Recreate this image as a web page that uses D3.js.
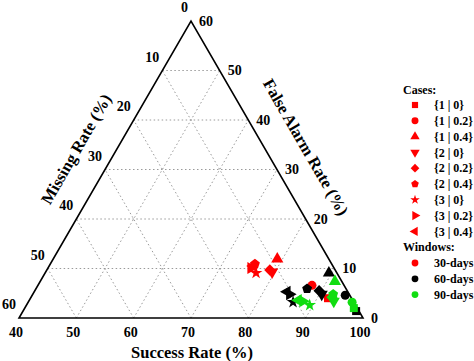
<!DOCTYPE html>
<html>
<head>
<meta charset="utf-8">
<script src="https://cdn.jsdelivr.net/npm/d3@7"></script>
<style>
  body { margin: 0; background: #fff; }
  text { font-family: "Liberation Serif", "Times New Roman", serif; font-weight: bold; fill: #000; }
</style>
</head>
<body>
<svg id="chart" width="474" height="361"></svg>
<script>
// cases {k | alpha} and windows
var cases = ["{1 | 0}", "{1 | 0.2}", "{1 | 0.4}", "{2 | 0}", "{2 | 0.2}", "{2 | 0.4}", "{3 | 0}", "{3 | 0.2}", "{3 | 0.4}"];
var windows = ["30-days", "60-days", "90-days"];
var windowColors = ["#ff0000", "#000000", "#11dd11"];

// success rate (%) per case, one array per window
var success30 = [91.9, 87.8, 79.1, 79.5, 78.9, 75.7, 76.8, 75.4, 75.6];
var success60 = [98.1, 94.6, 89.5, 90.4, 89.6, 87.3, 86.2, 84.8, 84.1];
var success90 = [97.4, 96.5, 91.4, 93.2, 92.5, 92.4, 89.4, 87.8, 86.9];

// false alarm rate (%) per case, one array per window
var falseAlarm30 = [4.0, 6.6, 11.9, 9.3, 9.7, 10.9, 9.1, 10.1, 10.5];
var falseAlarm60 = [1.4, 4.6, 9.1, 4.8, 5.5, 5.9, 3.2, 4.8, 5.3];
var falseAlarm90 = [2.0, 3.2, 7.4, 3.4, 4.2, 4.8, 2.6, 3.4, 3.6];

// missing rate is the rest: 100 - success - false alarm
var successTicks = [40, 50, 60, 70, 80, 90, 100];
var missingTicks = [0, 10, 20, 30, 40, 50, 60];
var falseAlarmTicks = [0, 10, 20, 30, 40, 50, 60];

var svg = d3.select("#chart");

var xS = d3.scaleLinear().domain([40, 100]).range([19, 363]);
var yF = d3.scaleLinear().domain([0, 60]).range([318, 21]);
var xF = d3.scaleLinear().domain([0, 60]).range([0, 172]);

// ternary point -> pixel
function px(s, f) { return xS(s) + xF(f); }
function py(s, f) { return yF(f); }

/*==============================
    extra symbols
==============================*/
var symbolPentagon = {
    draw: function (context, size) {
        var r = Math.sqrt(size / 2.378);
        for (var i = 0; i < 5; i++) {
            var a = -Math.PI / 2 + i * 2 * Math.PI / 5;
            if (i === 0) context.moveTo(r * Math.cos(a), r * Math.sin(a));
            else context.lineTo(r * Math.cos(a), r * Math.sin(a));
        }
        context.closePath();
    }
};
var symbolRhomb = {
    draw: function (context, size) {
        var r = Math.sqrt(size / 2);
        context.moveTo(0, -r);
        context.lineTo(r, 0);
        context.lineTo(0, r);
        context.lineTo(-r, 0);
        context.closePath();
    }
};
// type, rotation for each case
var caseShapes = [
    [d3.symbolSquare, 0], [d3.symbolCircle, 0], [d3.symbolTriangle, 0],
    [d3.symbolTriangle, 180], [symbolRhomb, 0], [symbolPentagon, 0],
    [d3.symbolStar, 0], [d3.symbolTriangle, 90], [d3.symbolTriangle, -90]
];

// grid
var grid = svg.append("g")
    .attr("fill", "none")
    .attr("stroke", "#9a9a9a")
    .attr("stroke-width", 1)
    .attr("stroke-dasharray", "1.5,2.5");

[10, 20, 30, 40, 50].forEach(function (v) {
    // false alarm constant
    grid.append("line")
        .attr("x1", px(40, v)).attr("y1", py(40, v))
        .attr("x2", px(100 - v, v)).attr("y2", py(100 - v, v));
    // success constant
    grid.append("line")
        .attr("x1", px(40 + v, 0)).attr("y1", py(40 + v, 0))
        .attr("x2", px(40 + v, 60 - v)).attr("y2", py(40 + v, 60 - v));
    // missing constant
    grid.append("line")
        .attr("x1", px(100 - v, 0)).attr("y1", py(100 - v, 0))
        .attr("x2", px(40, 60 - v)).attr("y2", py(40, 60 - v));
});

// triangle frame
svg.append("path")
    .attr("d", "M" + px(40, 0) + "," + py(40, 0) + "L" + px(100, 0) + "," + py(100, 0) + "L" + px(40, 60) + "," + py(40, 60) + "Z")
    .attr("fill", "none")
    .attr("stroke", "#000")
    .attr("stroke-width", 1.6);

// tick labels
svg.selectAll(".tick-s").data(successTicks).enter().append("text")
    .attr("x", function (d) { return px(d, 0) - 3; })
    .attr("y", 337)
    .attr("text-anchor", "middle")
    .style("font-size", "14px")
    .text(function (d) { return d; });

svg.selectAll(".tick-m").data(missingTicks).enter().append("text")
    .attr("x", function (d) { return px(40, 60 - d) - 3; })
    .attr("y", function (d) { return py(40, 60 - d) - 13.5; })
    .attr("dy", "0.35em")
    .attr("text-anchor", "end")
    .style("font-size", "14px")
    .text(function (d) { return d; });

svg.selectAll(".tick-f").data(falseAlarmTicks).enter().append("text")
    .attr("x", function (d) { return px(100 - d, d) + 8; })
    .attr("y", function (d) { return py(100 - d, d); })
    .attr("dy", "0.35em")
    .attr("text-anchor", "start")
    .style("font-size", "14px")
    .text(function (d) { return d; });

// axis titles
svg.append("text")
    .attr("x", 192).attr("y", 352).attr("dy", "0.35em")
    .attr("text-anchor", "middle")
    .style("font-size", "16.5px")
    .text("Success Rate (%)");

svg.append("text")
    .attr("transform", "translate(76,149) rotate(-60)")
    .attr("dy", "0.35em")
    .attr("text-anchor", "middle")
    .style("font-size", "16.5px")
    .text("Missing Rate (%)");

svg.append("text")
    .attr("transform", "translate(306,147) rotate(60)")
    .attr("dy", "0.35em")
    .attr("text-anchor", "middle")
    .style("font-size", "16.5px")
    .text("False Alarm Rate (%)");

// points
var successByWindow = [success30, success60, success90];
var falseAlarmByWindow = [falseAlarm30, falseAlarm60, falseAlarm90];

windows.forEach(function (w, wi) {
    var g = svg.append("g").attr("class", "window-" + wi);
    cases.forEach(function (c, ci) {
        var s = successByWindow[wi][ci];
        var f = falseAlarmByWindow[wi][ci];
        g.append("path")
            .attr("d", d3.symbol().type(caseShapes[ci][0]).size(caseShapes[ci][0] === d3.symbolStar ? 50 : 64)())
            .attr("transform", "translate(" + px(s, f) + "," + py(s, f) + ") rotate(" + caseShapes[ci][1] + ")")
            .attr("fill", windowColors[wi]);
    });
});

// legend
var legend = svg.append("g");
var rowH = 15.8;
legend.append("text").attr("x", 403).attr("y", 90).attr("dy", "0.35em")
    .style("font-size", "12px").text("Cases:");

cases.forEach(function (c, ci) {
    var y = 105 + ci * rowH;
    legend.append("path")
        .attr("d", d3.symbol().type(caseShapes[ci][0]).size(caseShapes[ci][0] === d3.symbolStar ? 28 : 38)())
        .attr("transform", "translate(415," + y + ") rotate(" + caseShapes[ci][1] + ")")
        .attr("fill", "#ff0000");
    legend.append("text").attr("x", 434).attr("y", y).attr("dy", "0.35em")
        .style("font-size", "12px").text(c);
});

var wy = 105 + cases.length * rowH;
legend.append("text").attr("x", 403).attr("y", wy).attr("dy", "0.35em")
    .style("font-size", "12px").text("Windows:");

windows.forEach(function (w, wi) {
    var y = wy + (wi + 1) * rowH;
    legend.append("circle").attr("cx", 415).attr("cy", y).attr("r", 3.4)
        .attr("fill", windowColors[wi]);
    legend.append("text").attr("x", 434).attr("y", y).attr("dy", "0.35em")
        .style("font-size", "12px").text(w);
});
</script>
</body>
</html>
